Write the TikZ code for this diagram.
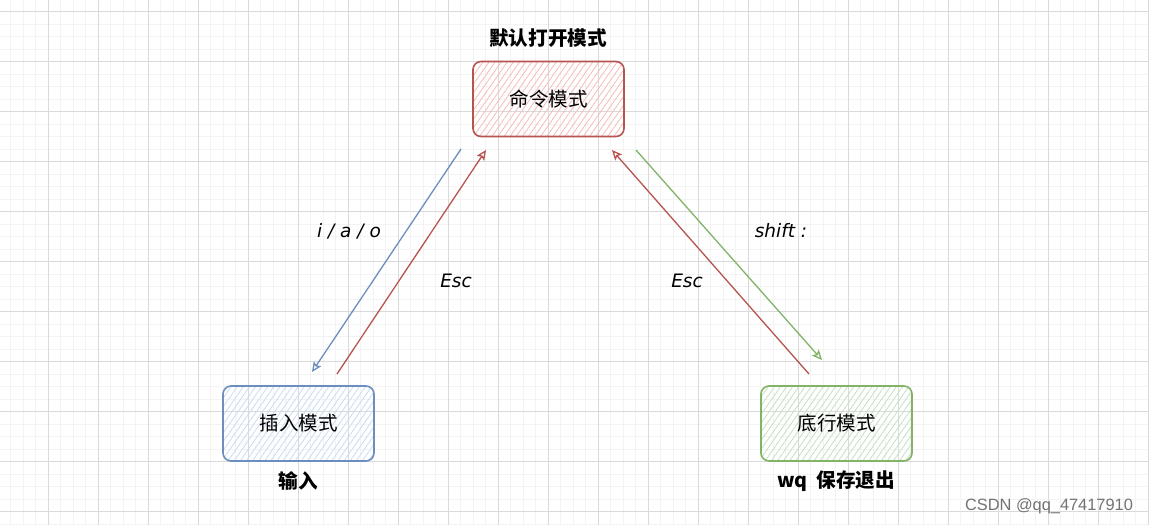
\documentclass[tikz,border=0pt]{standalone}
\usepackage{fontspec}
\usetikzlibrary{arrows.meta,patterns.meta}
\newfontfamily\cjk{Noto Sans CJK SC}
\newfontfamily\labfont{DejaVu Sans}
\newfontfamily\wmfont{Liberation Sans}
\definecolor{gridminor}{HTML}{F3F3F3}
\definecolor{gridmajor}{HTML}{DADADA}
\definecolor{redS}{HTML}{B85450}
\definecolor{redF}{HTML}{F5BDBB}
\definecolor{blueS}{HTML}{6C8EBF}
\definecolor{blueF}{HTML}{C9DCF5}
\definecolor{greenS}{HTML}{82B366}
\definecolor{greenF}{HTML}{C6E0C2}
\tikzset{
  modebox/.style={draw, line width=1.6pt, rounded corners=8pt, minimum width=151pt, minimum height=75pt,
    font=\cjk\fontsize{19.5}{23}\selectfont, text=black},
  hatch/.style={pattern={Lines[angle=55,distance=5pt,line width=0.8pt]}, pattern color=#1},
  note/.style={font=\cjk\bfseries\fontsize{19.6}{23}\selectfont, text=black},
  elabel/.style={font=\labfont\itshape\fontsize{18.5}{22}\selectfont, text=black},
  conn/.style={line width=1.3pt, -{Stealth[open,length=10pt,width=9pt,inset=2pt]}},
}
\begin{document}
\begin{tikzpicture}[x=1pt,y=-1pt]
\useasboundingbox (0,0) rectangle (1149,525);
\fill[white] (0,0) rectangle (1149,525);
% grid
\foreach \k in {0,...,93} {
  \draw[gridminor, line width=0.8pt] ({-1.7+12.5*\k},0) -- ({-1.7+12.5*\k},525);
}
\foreach \k in {0,...,43} {
  \draw[gridminor, line width=0.8pt] (0,{-0.8+12.5*\k}) -- (1149,{-0.8+12.5*\k});
}
\foreach \k in {0,...,23} {
  \draw[gridmajor, line width=0.9pt] ({48.3+50*(\k-1)},0) -- ({48.3+50*(\k-1)},525);
}
\foreach \k in {0,...,11} {
  \draw[gridmajor, line width=0.9pt] (0,{11.7+50*(\k-1)}) -- (1149,{11.7+50*(\k-1)});
}
% boxes
\node[modebox, draw=redS, hatch=redF] (cmd) at (548.5,99) {命令模式};
\node[modebox, draw=blueS, hatch=blueF] (ins) at (298.5,423.5) {插入模式};
\node[modebox, draw=greenS, hatch=greenF] (bot) at (836.5,423.5) {底行模式};
% notes
\node[note] (t1) at (548,38) {默认打开模式};
\node[note] (t2) at (298,481) {输入};
\node[note] (t3) at (836,481) {wq\ \ 保存退出};
% connector endpoints
\coordinate (b1) at (461,149);
\coordinate (b2) at (312,372);
\coordinate (r1) at (337,374);
\coordinate (r2) at (486,150);
\coordinate (r3) at (809,374);
\coordinate (r4) at (612,150);
\coordinate (g1) at (636,150);
\coordinate (g2) at (822,360);
\draw[conn, blueS] (b1) -- (b2);
\draw[conn, redS] (r1) -- (r2);
\draw[conn, redS] (r3) -- (r4);
\draw[conn, greenS] (g1) -- (g2);
% labels
\node[elabel] (l1) at (349,231) {i / a / o};
\node[elabel] (l2) at (456,281) {Esc};
\node[elabel] (l3) at (781,231) {shift :};
\node[elabel] (l4) at (687,281) {Esc};
% watermark
\node[font=\wmfont\fontsize{16.4}{19}\selectfont, text=black!55] (wm) at (1049,506) {CSDN @qq\_47417910};
\end{tikzpicture}
\end{document}
